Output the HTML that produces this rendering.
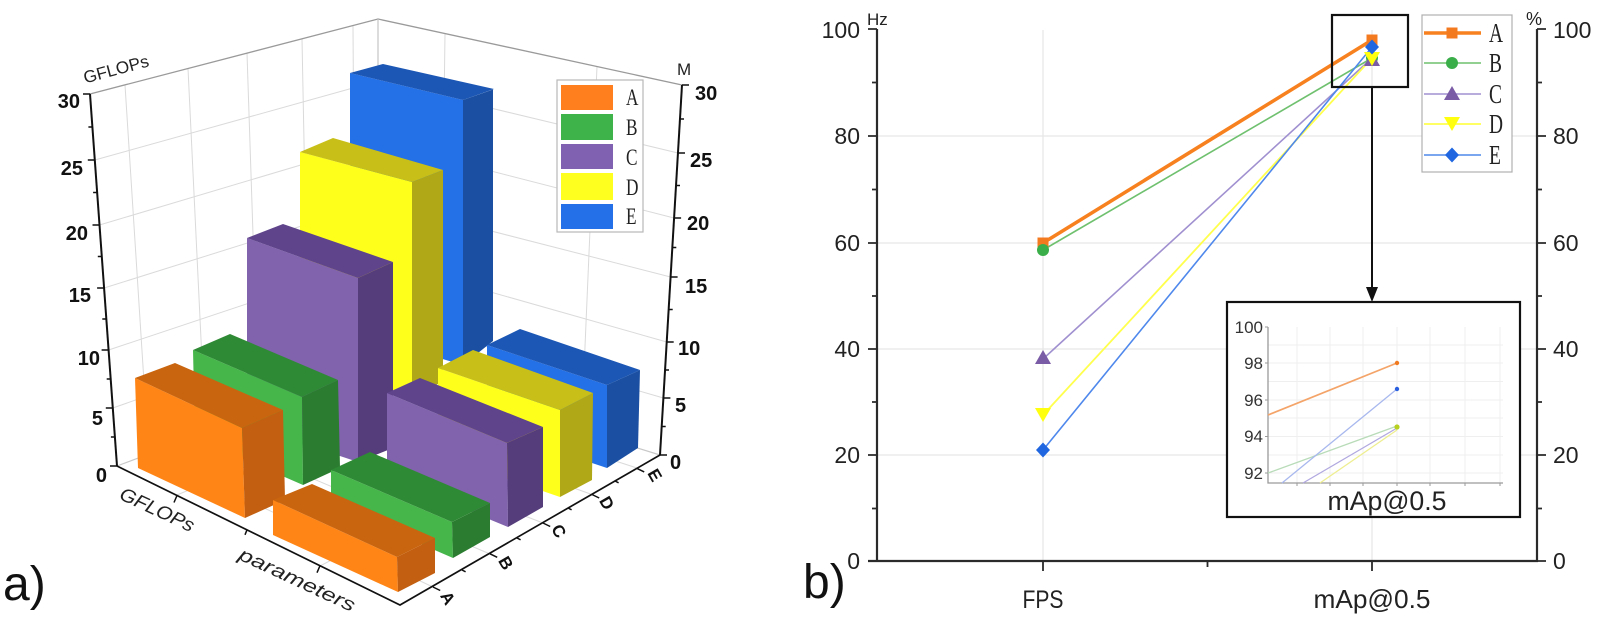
<!DOCTYPE html>
<html><head><meta charset="utf-8"><style>
html,body{margin:0;padding:0;background:#fff;}
svg{display:block;}
</style></head><body>
<svg width="1600" height="617" viewBox="0 0 1600 617" xmlns="http://www.w3.org/2000/svg" font-family="'Liberation Sans', Arial, sans-serif">
<rect width="1600" height="617" fill="#fff"/>

<!-- ================= LEFT 3D CHART ================= -->
<g fill="none" stroke="#dadada" stroke-width="1">
  <path d="M94.8,160 L378,81 M99.5,225 L378,142 M104.1,288 L378,202 M108.6,350 L378,260 M112.8,408 L378,315"/>
  <path d="M125,84.9 L148.6,454 M188,68.5 L205.5,433 M247,53.1 L258.9,413 M302,38.8 L308.9,394 M353,25.5 L355.2,376.5"/>
  <path d="M678,153 L378,81 M674,218 L378,142 M670.6,277 L378,202 M666.7,342 L378,260 M663.4,398 L378,315"/>
  <path d="M445,33.5 L440.4,387 M597,66.5 L581.4,430.7"/>
  <path d="M148.6,454 L433,587 M205.5,433 L490,554 M258.9,413 L543,523 M308.9,394 L592,494.5 M355.2,376.5 L637,468 M177,495 L437,386 M320,566 L580,430.5"/>
</g>
<path d="M90,94 L378,19 L682,85" fill="none" stroke="#9a9a9a" stroke-width="1.3"/>
<path d="M378,19 L378,368" fill="none" stroke="#c4c4c4" stroke-width="1.2"/>
<path d="M117,466 L378,368 L660,455" fill="none" stroke="#c8c8c8" stroke-width="1.2"/>

<g stroke="#111" fill="none">
  <path d="M90,94 L117,466" stroke-width="2"/>
  <path d="M682,85 L660,455" stroke-width="2"/>
  <path d="M117,466 L400,605 L660,455" stroke-width="1.7"/>
  <path stroke-width="1.6" d="M90,94 h-7 M94.8,160 h-7 M99.5,225 h-7 M104.1,288 h-7 M108.6,350 h-7 M112.8,408 h-7 M117,466 h-7
    M92.4,127 h-4 M97.1,192.5 h-4 M101.8,256.5 h-4 M106.3,319 h-4 M110.7,379 h-4 M114.9,437 h-4"/>
  <path stroke-width="1.6" d="M682,85 h7 M678,153 h7 M674.1,218 h7 M670.6,277 h7 M666.7,342 h7 M663.4,398 h7 M660,455 h7
    M680,119 h4 M676,185.5 h4 M672.3,247.5 h4 M668.7,309.5 h4 M665,370 h4 M661.7,426.5 h4"/>
  <path stroke-width="1.5" d="M433,587 l7.2,3.5 M490,553.8 l7.2,3.5 M543,523 l7.2,3.5 M592,494.5 l7.2,3.5 M637,468.4 l7.2,3.5
    M462,570 l3.6,1.8 M517,538 l3.6,1.8 M568,508 l3.6,1.8 M615,481 l3.6,1.8"/>
  <path stroke-width="1.5" d="M177,495.5 l-3,7 M247,529.8 l-2,5 M320,565.7 l-3,7"/>
</g>

<g font-weight="bold" font-size="20" fill="#111" text-anchor="end">
  <text x="80" y="108">30</text>
  <text x="83" y="175">25</text>
  <text x="88" y="240">20</text>
  <text x="91" y="302">15</text>
  <text x="100" y="365">10</text>
  <text x="103" y="425">5</text>
  <text x="107" y="482">0</text>
</g>
<g font-weight="bold" font-size="20" fill="#111">
  <text x="695" y="100">30</text>
  <text x="690" y="167">25</text>
  <text x="687" y="230">20</text>
  <text x="685" y="293">15</text>
  <text x="678" y="355">10</text>
  <text x="675" y="412">5</text>
  <text x="670" y="469">0</text>
</g>
<text transform="translate(116,69) rotate(-15)" x="0" y="6" font-size="17" text-anchor="middle" textLength="67" lengthAdjust="spacingAndGlyphs" fill="#222">GFLOPs</text>
<text x="677" y="75" font-size="17" fill="#222">M</text>
<text transform="translate(157,510) rotate(25)" x="0" y="6" font-size="19" font-style="italic" text-anchor="middle" textLength="80" lengthAdjust="spacingAndGlyphs" fill="#222">GFLOPs</text>
<text transform="translate(297,580) rotate(25)" x="0" y="6" font-size="19" font-style="italic" text-anchor="middle" textLength="126" lengthAdjust="spacingAndGlyphs" fill="#222">parameters</text>
<g font-size="17" font-weight="bold" fill="#111" text-anchor="middle">
  <text transform="translate(448,598) rotate(60)" y="6">A</text>
  <text transform="translate(506,563) rotate(60)" y="6">B</text>
  <text transform="translate(559,531) rotate(60)" y="6">C</text>
  <text transform="translate(607,503) rotate(60)" y="6">D</text>
  <text transform="translate(655,475) rotate(60)" y="6">E</text>
</g>
<text x="3" y="600" font-size="48" fill="#111">a)</text>

<!-- bars -->
<polygon points="350,73 463,100 463,365 350,332" fill="#2470e6"/>
<polygon points="463,100 493,89.5 493,341 463,365" fill="#1a4fa2"/>
<polygon points="350,73 383,64 494,89 463,100" fill="#1c57b5"/>

<polygon points="300,152 412,182 412,395 300,365" fill="#ffff1c"/>
<polygon points="412,182 443,170 443,382 412,395" fill="#b0a816"/>
<polygon points="300,152 333,138 443,170 412,182" fill="#c8c018"/>

<polygon points="247,238 358,278 358,462 247,425" fill="#8062ad"/>
<polygon points="358,278 393,262 393,448 358,462" fill="#553c7b"/>
<polygon points="247,238 283,224 393,262 358,278" fill="#5f448b"/>

<polygon points="487,345 607,385 607,468 487,428" fill="#2470e6"/>
<polygon points="607,385 640,370 638,448 607,468" fill="#1a4fa2"/>
<polygon points="487,345 520,329 640,370 607,385" fill="#1c57b5"/>

<polygon points="193,350 302,397 303,485 195,438" fill="#46b64b"/>
<polygon points="302,397 338,380 340,468 303,485" fill="#2b7c30"/>
<polygon points="193,350 230,334 338,380 302,397" fill="#2f8a35"/>

<polygon points="438,368 560,410 560,497 438,455" fill="#ffff1c"/>
<polygon points="560,410 593,393 592,480 560,497" fill="#b0a816"/>
<polygon points="438,368 473,350 593,393 560,410" fill="#c8c018"/>

<polygon points="135,378 242,428 245,518 138,468" fill="#ff8517"/>
<polygon points="242,428 283,410 285,500 245,518" fill="#c25f10"/>
<polygon points="135,378 175,363 283,410 242,428" fill="#c9650e"/>

<polygon points="387,393 507,443 508,527 387,477" fill="#8062ad"/>
<polygon points="507,443 543,427 543,507 508,527" fill="#553c7b"/>
<polygon points="387,393 420,378 543,427 507,443" fill="#5f448b"/>

<polygon points="331,470 452,522 453,558 331,505" fill="#46b64b"/>
<polygon points="452,522 490,503 490,537 453,558" fill="#2b7c30"/>
<polygon points="331,470 370,452 490,503 452,522" fill="#2f8a35"/>

<polygon points="273,500 397,557 398,592 273,535" fill="#ff8517"/>
<polygon points="397,557 435,538 435,573 398,592" fill="#c25f10"/>
<polygon points="273,500 312,484 435,538 397,557" fill="#c9650e"/>

<rect x="557" y="80" width="86" height="152" fill="#fff" stroke="#b8b8b8" stroke-width="1.2"/>
<rect x="561" y="85" width="52" height="25" fill="#ff7f1e"/>
<rect x="561" y="114" width="52" height="26" fill="#3db34a"/>
<rect x="561" y="144" width="52" height="25" fill="#8060b0"/>
<rect x="561" y="173" width="52" height="27" fill="#ffff1f"/>
<rect x="561" y="204" width="52" height="25" fill="#2370e8"/>
<g font-family="'Liberation Serif', 'Times New Roman', serif" font-size="23" fill="#222">
  <text transform="translate(626,105) scale(0.75,1)">A</text>
  <text transform="translate(626,135) scale(0.75,1)">B</text>
  <text transform="translate(626,165) scale(0.75,1)">C</text>
  <text transform="translate(626,195) scale(0.75,1)">D</text>
  <text transform="translate(626,224) scale(0.75,1)">E</text>
</g>

<!-- ================= RIGHT LINE CHART ================= -->
<g stroke="#e6e6e6" stroke-width="1.2" fill="none">
  <path d="M878,136 H1536 M878,243 H1536 M878,349 H1536 M878,455 H1536"/>
  <path d="M1043,30 V560 M1372,30 V560"/>
</g>

<g fill="none" stroke-linecap="round">
  <path d="M1043,243 L1372,40" stroke="#f7801f" stroke-width="3.6"/>
  <path d="M1043,250 L1372,58" stroke="#6fc06f" stroke-width="1.6"/>
  <path d="M1043,359 L1372,58" stroke="#a090d0" stroke-width="1.6"/>
  <path d="M1043,415 L1372,58" stroke="#ffff4d" stroke-width="1.8"/>
  <path d="M1043,450 L1372,47" stroke="#4f88ec" stroke-width="1.6"/>
</g>
<rect x="1037.5" y="237.5" width="11" height="11" fill="#f47a20"/>
<circle cx="1043" cy="250" r="6" fill="#3aae48"/>
<polygon points="1043,350 1051,364 1035,364" fill="#7a5ba6"/>
<polygon points="1043,422 1051,408 1035,408" fill="#ffff10"/>
<polygon points="1043,442.5 1050,450 1043,457.5 1036,450" fill="#1f66e0"/>

<rect x="1366.5" y="34.5" width="11" height="11" fill="#f47a20"/>
<circle cx="1372" cy="58" r="6" fill="#3aae48"/>
<polygon points="1372,52 1380,66 1364,66" fill="#7a5ba6"/>
<polygon points="1372,66 1380,52 1364,52" fill="#ffff10"/>
<polygon points="1372,39.5 1379,47 1372,54.5 1365,47" fill="#1f66e0"/>

<g stroke="#2a2a2a" stroke-width="2.2" fill="none">
  <path d="M877,29 V562 M868,561 H1538 M1537,29 V562"/>
  <path stroke-width="1.8" d="M868,29 H877 M868,136 H877 M868,243 H877 M868,349 H877 M868,455 H877
     M872,82.5 H877 M872,189.5 H877 M872,296 H877 M872,402 H877 M872,508.5 H877"/>
  <path stroke-width="1.8" d="M1537,29 H1546 M1537,136 H1546 M1537,243 H1546 M1537,349 H1546 M1537,455 H1546 M1537,561 H1546
     M1537,82.5 H1542 M1537,189.5 H1542 M1537,296 H1542 M1537,402 H1542 M1537,508.5 H1542"/>
  <path stroke-width="1.8" d="M1043,561 V571 M1372,561 V571 M1207.5,561 V567"/>
</g>

<g font-size="23" fill="#222" text-anchor="end">
  <text x="860" y="38">100</text>
  <text x="860" y="144">80</text>
  <text x="860" y="251">60</text>
  <text x="860" y="357">40</text>
  <text x="860" y="463">20</text>
  <text x="860" y="569">0</text>
</g>
<g font-size="23" fill="#222">
  <text x="1553" y="38">100</text>
  <text x="1553" y="144">80</text>
  <text x="1553" y="251">60</text>
  <text x="1553" y="357">40</text>
  <text x="1553" y="463">20</text>
  <text x="1553" y="569">0</text>
</g>
<text x="867" y="25" font-size="17" fill="#222">Hz</text>
<text x="1526" y="25" font-size="18" fill="#222">%</text>
<text x="1043" y="608" font-size="25" text-anchor="middle" textLength="41" lengthAdjust="spacingAndGlyphs" fill="#222">FPS</text>
<text x="1372" y="608" font-size="26" text-anchor="middle" textLength="117" lengthAdjust="spacingAndGlyphs" fill="#222">mAp@0.5</text>
<text x="803" y="598" font-size="48" fill="#111">b)</text>

<rect x="1332" y="15" width="76" height="72" fill="none" stroke="#111" stroke-width="2.2"/>
<path d="M1372,87 V292" stroke="#111" stroke-width="2"/>
<polygon points="1366,287 1378,287 1372,302" fill="#111"/>

<rect x="1227" y="302" width="293" height="215" fill="#fff" stroke="#111" stroke-width="2.2"/>
<g stroke="#efefef" stroke-width="1" fill="none">
  <path d="M1297,327 V483 M1330,327 V483 M1363,327 V483 M1397,327 V483 M1430,327 V483 M1465,327 V483 M1500,327 V483"/>
  <path d="M1268,345 H1503 M1268,363 H1503 M1268,381.5 H1503 M1268,400 H1503 M1268,418 H1503 M1268,436.5 H1503 M1268,455 H1503 M1268,473 H1503"/>
</g>
<path d="M1268,327 V483 H1503" fill="none" stroke="#9a9a9a" stroke-width="1.3"/>
<path d="M1268,327 h-3 M1268,363 h-3 M1268,400 h-3 M1268,436.5 h-3 M1268,473 h-3 M1297,483 v3 M1330,483 v3 M1363,483 v3 M1397,483 v3 M1430,483 v3 M1465,483 v3 M1500,483 v3" stroke="#9a9a9a" stroke-width="1"/>
<g font-size="17" fill="#333" text-anchor="end">
  <text x="1263" y="333">100</text>
  <text x="1263" y="369">98</text>
  <text x="1263" y="406">96</text>
  <text x="1263" y="442">94</text>
  <text x="1263" y="479">92</text>
</g>
<g fill="none">
  <path d="M1268,415 L1397,363" stroke="#f4a469" stroke-width="1.7"/>
  <path d="M1268,473 L1397,426" stroke="#b8dbb8" stroke-width="1.3"/>
  <path d="M1282,483 L1397,389" stroke="#a8b8ee" stroke-width="1.3"/>
  <path d="M1303,483 L1397,428" stroke="#b0a8e0" stroke-width="1.3"/>
  <path d="M1320,483 L1397,430" stroke="#eeee90" stroke-width="1.3"/>
</g>
<circle cx="1397" cy="363" r="2.2" fill="#f07a20"/>
<circle cx="1397" cy="389" r="2.2" fill="#2a60e0"/>
<circle cx="1397" cy="427" r="2.6" fill="#b8d020"/>
<text x="1387" y="510" font-size="27" text-anchor="middle" textLength="119" lengthAdjust="spacingAndGlyphs" fill="#222">mAp@0.5</text>

<rect x="1422" y="15" width="90" height="157" fill="#fff" stroke="#b0b0b0" stroke-width="1.2"/>
<path d="M1424,33 H1481" stroke="#f7801f" stroke-width="3.6"/>
<rect x="1446.5" y="27.5" width="11" height="11" fill="#f47a20"/>
<path d="M1424,63 H1481" stroke="#6fc06f" stroke-width="1.6"/>
<circle cx="1452" cy="63" r="6" fill="#3aae48"/>
<path d="M1424,94 H1481" stroke="#a090d0" stroke-width="1.6"/>
<polygon points="1452,86 1460,100 1444,100" fill="#7a5ba6"/>
<path d="M1424,124 H1481" stroke="#ffff4d" stroke-width="1.8"/>
<polygon points="1452,131 1460,117 1444,117" fill="#ffff10"/>
<path d="M1424,155 H1481" stroke="#4f88ec" stroke-width="1.6"/>
<polygon points="1452,147.5 1459,155 1452,162.5 1445,155" fill="#1f66e0"/>
<g font-family="'Liberation Serif', 'Times New Roman', serif" font-size="27" fill="#222">
  <text transform="translate(1489,42) scale(0.72,1)">A</text>
  <text transform="translate(1489,72) scale(0.72,1)">B</text>
  <text transform="translate(1489,103) scale(0.72,1)">C</text>
  <text transform="translate(1489,133) scale(0.72,1)">D</text>
  <text transform="translate(1489,164) scale(0.72,1)">E</text>
</g>
</svg>
</body></html>
